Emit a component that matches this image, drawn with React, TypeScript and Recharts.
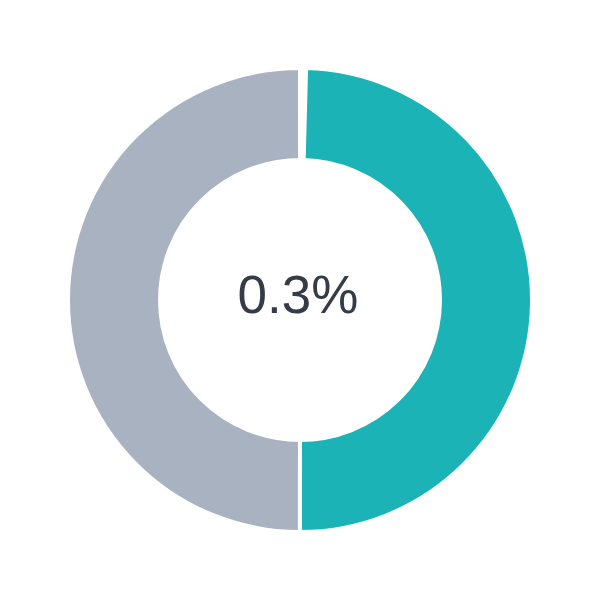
import React from "react";
import { PieChart, Pie, Cell } from "recharts";

const categories = ["Share", "Other"];
const values = [49.6, 50];
const colors = ["#1bb3b6", "#a8b2c0"];
const centerLabel = "0.3%";

const data = categories.map((name, i) => ({ name, value: values[i] }));

export default function App() {
  return (
    <div style={{ position: "absolute", left: 0, top: 0, width: 600, height: 600 }}>
      <PieChart width={600} height={600} margin={{ top: 0, right: 0, bottom: 0, left: 0 }}>
        <Pie
          data={data}
          dataKey="value"
          nameKey="name"
          cx={300}
          cy={300}
          innerRadius={140}
          outerRadius={232}
          startAngle={88.5}
          endAngle={-270}
          stroke="#ffffff"
          strokeWidth={4}
          isAnimationActive={false}
        >
          {data.map((d, i) => (
            <Cell key={d.name} fill={colors[i]} />
          ))}
        </Pie>
      </PieChart>
      <div
        style={{
          position: "absolute",
          left: 0,
          top: 0,
          width: 600,
          height: 600,
          display: "flex",
          alignItems: "center",
          justifyContent: "center",
          pointerEvents: "none",
        }}
      >
        <span
          style={{
            fontFamily: "'Liberation Sans', Arial, sans-serif",
            fontSize: 53,
            color: "#353b47",
            marginLeft: -4,
            marginTop: -12,
          }}
        >
          {centerLabel}
        </span>
      </div>
    </div>
  );
}
